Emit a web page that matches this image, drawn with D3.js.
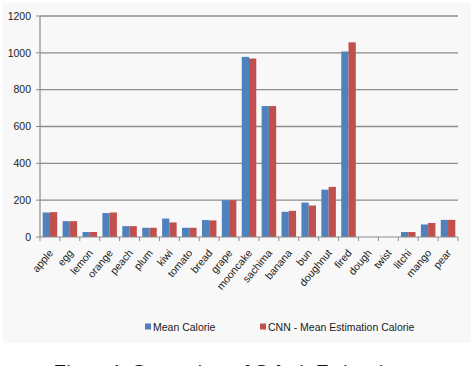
<!DOCTYPE html>
<html>
<head>
<meta charset="utf-8">
<script src="https://cdn.jsdelivr.net/npm/d3@7"></script>
<style>
  body { margin: 0; background: #fff; }
  svg { display: block; }
</style>
</head>
<body>
<svg id="chart"></svg>
<script>
const foods = ["apple", "egg", "lemon", "orange", "peach", "plum", "kiwi", "tomato", "bread", "grape",
  "mooncake", "sachima", "banana", "bun", "doughnut", "fired", "dough", "twist", "litchi", "mango", "pear"];
const meanCalorie = [133, 86, 27, 130, 59, 50, 100, 50, 92, 200, 978, 711, 137, 187, 257, 1007, 0, 0, 27, 68, 93];
const cnnEstimate = [135, 86, 27, 133, 59, 50, 79, 50, 90, 200, 969, 711, 142, 171, 272, 1057, 0, 0, 27, 76, 93];
const yTicks = [0, 200, 400, 600, 800, 1000, 1200];
const seriesNames = ["Mean Calorie", "CNN - Mean Estimation Calorie"];
const seriesColors = ["#4f81bd", "#c0504d"];

const width = 474, height = 366;
const margin = { top: 16, right: 16, bottom: 129, left: 40 };
const labelFont = "'Liberation Sans', Arial, sans-serif";

const svg = d3.select("#chart").attr("width", width).attr("height", height);

// chart panel
svg.append("rect")
  .attr("x", 3).attr("y", 3)
  .attr("width", 468).attr("height", 340)
  .attr("fill", "#f8f8f8");

const x = d3.scaleBand()
  .domain(foods)
  .range([margin.left, width - margin.right]);

const inner = d3.scaleBand()
  .domain([0, 1])
  .range([0, x.bandwidth()])
  .paddingOuter(0.37);

const y = d3.scaleLinear()
  .domain([0, 1200])
  .range([height - margin.bottom, margin.top]);

// gridlines
svg.append("g")
  .selectAll("line")
  .data(yTicks.slice(1))
  .join("line")
  .attr("x1", margin.left)
  .attr("x2", width - margin.right)
  .attr("y1", (d) => y(d))
  .attr("y2", (d) => y(d))
  .attr("stroke", "#8c8c8c")
  .attr("stroke-width", 1.3);

// y labels
svg.append("g")
  .selectAll("text")
  .data(yTicks)
  .join("text")
  .attr("x", 31)
  .attr("y", (d) => y(d))
  .attr("dy", "0.35em")
  .attr("text-anchor", "end")
  .style("font-family", labelFont)
  .style("font-size", "10.5px")
  .attr("fill", "#222")
  .text((d) => d);

// y tick marks
svg.append("g")
  .selectAll("line")
  .data(yTicks)
  .join("line")
  .attr("x1", margin.left - 4)
  .attr("x2", margin.left)
  .attr("y1", (d) => y(d))
  .attr("y2", (d) => y(d))
  .attr("stroke", "#8c8c8c");

// bars
const rows = foods.map((f, i) => ({ food: f, vals: [meanCalorie[i], cnnEstimate[i]] }));

svg.append("g")
  .selectAll("g")
  .data(rows)
  .join("g")
  .attr("transform", (d) => `translate(${x(d.food)},0)`)
  .selectAll("rect")
  .data((d) => d.vals.map((v, k) => ({ k, v })))
  .join("rect")
  .attr("x", (d) => inner(d.k))
  .attr("width", inner.bandwidth())
  .attr("y", (d) => y(d.v))
  .attr("height", (d) => y(0) - y(d.v))
  .attr("fill", (d) => seriesColors[d.k]);

// axes lines
svg.append("line")
  .attr("x1", margin.left).attr("x2", margin.left)
  .attr("y1", y(1200)).attr("y2", y(0))
  .attr("stroke", "#8c8c8c").attr("stroke-width", 1.2);

svg.append("line")
  .attr("x1", margin.left).attr("x2", width - margin.right)
  .attr("y1", y(0)).attr("y2", y(0))
  .attr("stroke", "#8c8c8c").attr("stroke-width", 1.2);

// x tick marks between categories
svg.append("g")
  .selectAll("line")
  .data(foods.concat(["end"]))
  .join("line")
  .attr("x1", (d, i) => margin.left + i * x.step())
  .attr("x2", (d, i) => margin.left + i * x.step())
  .attr("y1", y(0))
  .attr("y2", y(0) + 4)
  .attr("stroke", "#8c8c8c");

// x labels, rotated
svg.append("g")
  .selectAll("text")
  .data(foods)
  .join("text")
  .attr("transform", (d) => `translate(${x(d) + x.bandwidth() / 2 + 1},${y(0) + 14}) rotate(-50)`)
  .attr("text-anchor", "end")
  .attr("dy", "0.35em")
  .style("font-family", labelFont)
  .style("font-size", "10.5px")
  .attr("fill", "#222")
  .text((d) => d);

// legend
const legendX = [145, 260];
const legend = svg.append("g")
  .selectAll("g")
  .data(seriesNames)
  .join("g")
  .attr("transform", (d, i) => `translate(${legendX[i]},327)`);

legend.append("rect")
  .attr("x", 0).attr("y", -3.5)
  .attr("width", 6).attr("height", 6)
  .attr("fill", (d, i) => seriesColors[i]);

legend.append("text")
  .attr("x", 8)
  .attr("dy", "0.35em")
  .style("font-family", labelFont)
  .style("font-size", "10.5px")
  .attr("fill", "#222")
  .text((d) => d);

// figure caption, its lower part runs past the page edge as in the source
svg.append("text")
  .attr("x", 229)
  .attr("y", 377.5)
  .attr("text-anchor", "middle")
  .style("font-family", "'Liberation Serif', 'Times New Roman', serif")
  .style("font-weight", "bold")
  .style("font-size", "18.5px")
  .attr("fill", "#111")
  .text("Figure 1: Comparison of Calorie Estimation");
</script>
</body>
</html>
